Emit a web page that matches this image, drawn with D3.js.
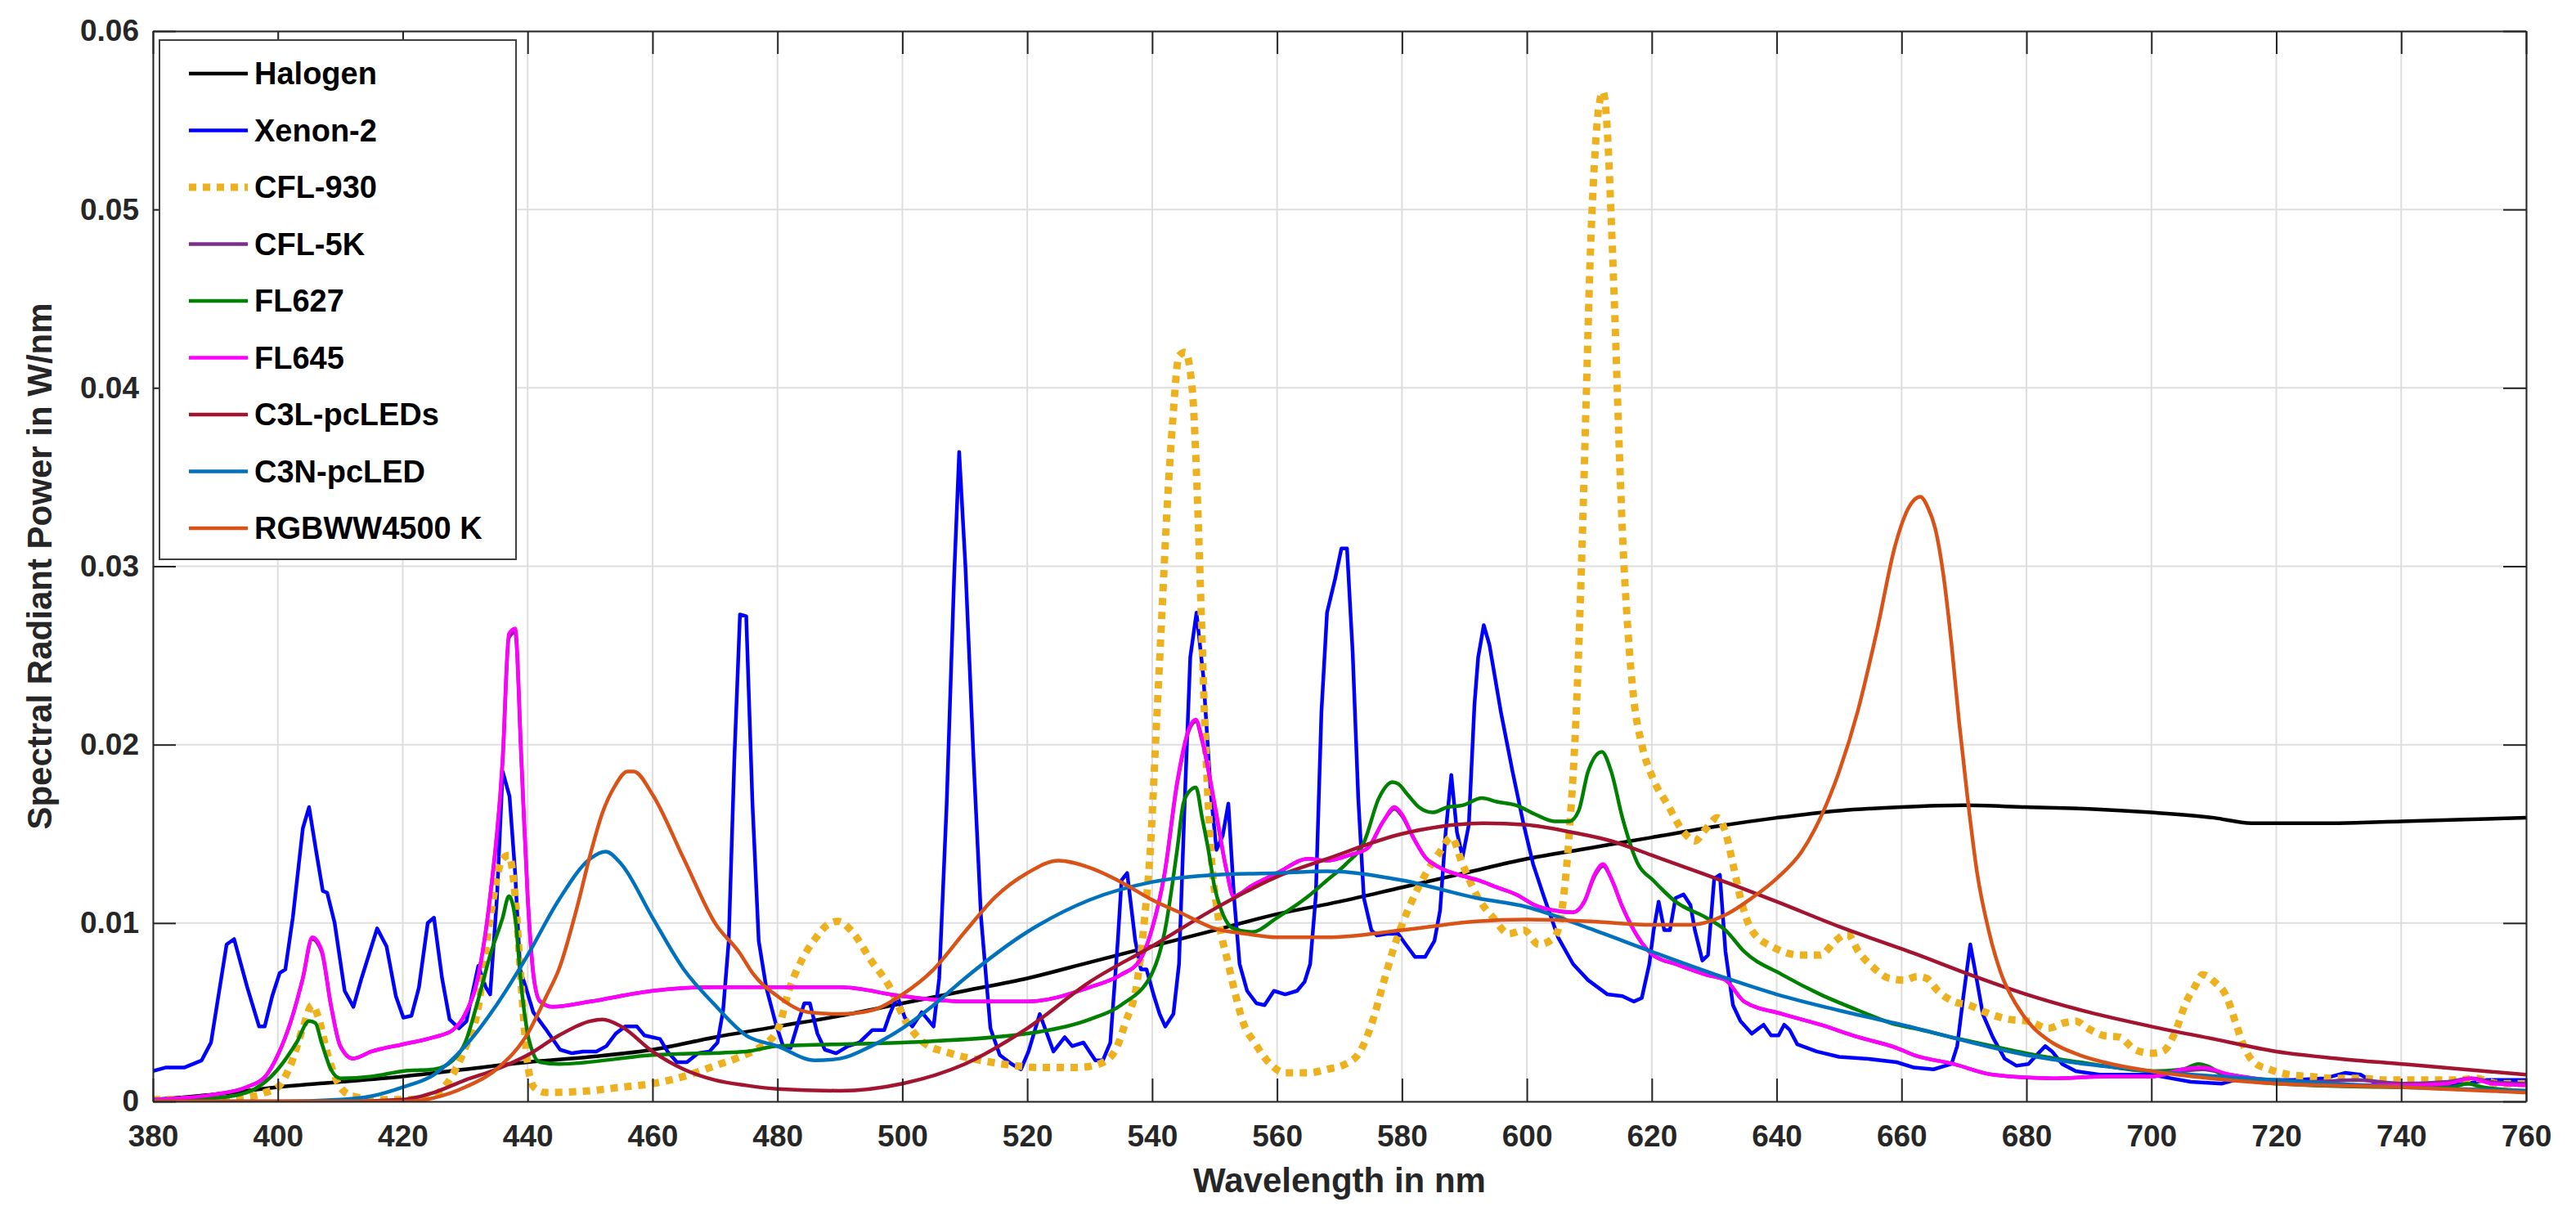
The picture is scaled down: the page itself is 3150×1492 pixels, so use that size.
<!DOCTYPE html>
<html>
<head>
<meta charset="utf-8">
<script src="https://cdn.jsdelivr.net/npm/d3@7"></script>
<style>
  body { margin: 0; background: #fff; }
  text { font-family: "Liberation Sans", Arial, sans-serif; font-weight: bold; }
</style>
</head>
<body>
<svg width="3150" height="1492"></svg>
<script>
// values: [wavelength nm, W/nm]
const halogen = [[380,0.0001],[390,0.0004],[400,0.0008],[410,0.0011],[420,0.0014],[430,0.0018],[440,0.0022],[450,0.0025],[460,0.0029],[470,0.0036],[480,0.0042],[490,0.0048],[500,0.0055],[510,0.0062],[520,0.0069],[530,0.0078],[540,0.0087],[550,0.0096],[560,0.0105],[570,0.0112],[580,0.0120],[590,0.0128],[600,0.0136],[610,0.0142],[620,0.0148],[630,0.0154],[640,0.0159],[650,0.0163],[660,0.0165],[670,0.0166],[680,0.0165],[690,0.0164],[700,0.0162],[710,0.0159],[716,0.0156],[720,0.0156],[730,0.0156],[740,0.0157],[750,0.0158],[760,0.0159]];

const xenon2 = [[380,0.0017],[382,0.0019],[385,0.0019],[387.8,0.0023],[389.3,0.0033],[391.8,0.0088],[393,0.0091],[395.1,0.0064],[397,0.0042],[397.9,0.0042],[399.1,0.0059],[400.3,0.0072],[401.2,0.0074],[402.4,0.0103],[404,0.0153],[405,0.0165],[406.1,0.0141],[407.2,0.0118],[407.9,0.0117],[409.1,0.0100],[410.7,0.0062],[412.1,0.0053],[413.4,0.0069],[415.9,0.0097],[417.4,0.0087],[418.9,0.0059],[420.1,0.0047],[421.4,0.0048],[422.6,0.0064],[424,0.0100],[425,0.0103],[426.3,0.0069],[427.5,0.0046],[429,0.0041],[430.2,0.0045],[432.1,0.0076],[433.3,0.0064],[434,0.0060],[435.1,0.0115],[436,0.0185],[437.1,0.0171],[438,0.0128],[438.8,0.0074],[439.7,0.0064],[440.9,0.0050],[442.8,0.0041],[445.2,0.0029],[447.1,0.0027],[448.9,0.0028],[451,0.0028],[452.6,0.0031],[454.1,0.0038],[455.6,0.0042],[457.5,0.0042],[458.7,0.0037],[461.2,0.0035],[462.4,0.0028],[463.9,0.0022],[465.5,0.0022],[467.3,0.0027],[469.1,0.0028],[470.4,0.0033],[471.3,0.0051],[472.2,0.0090],[473.1,0.0192],[474,0.0273],[475,0.0272],[476,0.0167],[477,0.0090],[478.2,0.0064],[479.7,0.0044],[480.9,0.0031],[482.1,0.0030],[483.3,0.0044],[484.3,0.0055],[485.2,0.0055],[486.4,0.0038],[487.6,0.0029],[489.4,0.0027],[491.3,0.0031],[493.1,0.0033],[495.2,0.0040],[497.1,0.0040],[498,0.0049],[499.2,0.0059],[500.4,0.0047],[501.6,0.0042],[503.1,0.0050],[505,0.0042],[505.9,0.0069],[507.1,0.0167],[508.3,0.0295],[509.1,0.0364],[510.1,0.0300],[511.4,0.0192],[512.6,0.0103],[514.1,0.0041],[515.6,0.0026],[517.5,0.0021],[519,0.0018],[520.2,0.0028],[522,0.0049],[524.2,0.0028],[526,0.0036],[527.2,0.0031],[529,0.0033],[530.9,0.0023],[532.1,0.0023],[533.3,0.0033],[534.5,0.0090],[535.1,0.0124],[536,0.0128],[537.3,0.0090],[538.2,0.0074],[539.1,0.0074],[540.3,0.0059],[541.2,0.0049],[542.1,0.0042],[543.4,0.0049],[544.3,0.0077],[545.2,0.0167],[546.1,0.0249],[547.1,0.0274],[548.2,0.0238],[549.4,0.0172],[550.3,0.0141],[551.3,0.0149],[552.2,0.0167],[553.1,0.0115],[554,0.0077],[555.2,0.0062],[556.7,0.0055],[558,0.0054],[559.5,0.0062],[561.3,0.0060],[563.2,0.0062],[564.4,0.0067],[565.3,0.0077],[566.2,0.0115],[567.1,0.0218],[568,0.0274],[569.3,0.0293],[570.3,0.0310],[571.2,0.0310],[572.1,0.0252],[573,0.0170],[573.9,0.0114],[575.1,0.0096],[576,0.0093],[577.6,0.0094],[579.4,0.0094],[580.6,0.0088],[582.1,0.0081],[583.7,0.0081],[585.2,0.0090],[586.1,0.0107],[587,0.0151],[587.9,0.0183],[588.8,0.0151],[589.7,0.0137],[590.7,0.0155],[591.6,0.0222],[592.2,0.0249],[593.1,0.0267],[594,0.0256],[595.8,0.0219],[597.7,0.0185],[599.5,0.0155],[601,0.0133],[602.8,0.0114],[605,0.0092],[607.4,0.0077],[609.8,0.0068],[612.9,0.0060],[615.3,0.0059],[617.1,0.0056],[618.4,0.0058],[619.6,0.0077],[620.3,0.0096],[621.1,0.0112],[622,0.0096],[622.9,0.0096],[623.8,0.0114],[625.1,0.0116],[626.2,0.0110],[626.9,0.0096],[628.1,0.0079],[629,0.0082],[630,0.0125],[630.9,0.0127],[631.8,0.0084],[633,0.0054],[634.2,0.0045],[636,0.0038],[637.9,0.0043],[639.1,0.0037],[640.3,0.0037],[641.2,0.0043],[642.1,0.0040],[643.3,0.0032],[646.4,0.0028],[650,0.0025],[654.3,0.0024],[659.2,0.0022],[662,0.0019],[665.1,0.0018],[668,0.0021],[668.9,0.0031],[669.9,0.0059],[671,0.0088],[672.1,0.0067],[673,0.0049],[674.6,0.0036],[676.5,0.0024],[678.4,0.0020],[680.3,0.0021],[681.9,0.0027],[683,0.0031],[684.1,0.0028],[685.7,0.0021],[687.9,0.0017],[691.7,0.0015],[696.1,0.0015],[700,0.0015],[703.1,0.0013],[706.3,0.0011],[711.3,0.0010],[714.5,0.0013],[718.9,0.0012],[722.7,0.0012],[727.8,0.0013],[731,0.0016],[733.5,0.0015],[736,0.0010],[741.1,0.0010],[746.1,0.0009],[750.6,0.0010],[753.7,0.0012],[756.9,0.0012],[760,0.0012]];

const cfl930 = [[380,0.0001],[390,0.0001],[396,0.0003],[398,0.0005],[400,0.0008],[402,0.0020],[404,0.0041],[405.5,0.0054],[406.5,0.0047],[408,0.0026],[410,0.0008],[412,0.0003],[416,0.0001],[420,0.0001],[424,0.0002],[428,0.0015],[430,0.0030],[432,0.0051],[434,0.0103],[436,0.0136],[437,0.0138],[438,0.0115],[439,0.0064],[440,0.0021],[441,0.0008],[443,0.0005],[450,0.0006],[455,0.0008],[460,0.0010],[465,0.0014],[470,0.0020],[474,0.0025],[477,0.0030],[480,0.0040],[482,0.0064],[484,0.0080],[486,0.0091],[488,0.0099],[489.7,0.0101],[492,0.0095],[495,0.0079],[498,0.0064],[500.4,0.0046],[503.4,0.0033],[507.7,0.0027],[512.6,0.0023],[516,0.0021],[522,0.0019],[528,0.0019],[531.5,0.0021],[534,0.0028],[535.7,0.0044],[537.6,0.0067],[538.8,0.0103],[539.7,0.0141],[540.6,0.0205],[541.5,0.0269],[542.4,0.0333],[543.3,0.0382],[544.3,0.0418],[545.3,0.0420],[546.4,0.0400],[547.3,0.0333],[547.9,0.0269],[548.5,0.0205],[549.4,0.0141],[550.6,0.0103],[552.2,0.0077],[553.4,0.0059],[554.6,0.0044],[556.4,0.0033],[558.9,0.0021],[561.3,0.0016],[565,0.0016],[568,0.0018],[571,0.0021],[573.3,0.0028],[575.1,0.0043],[577,0.0066],[578.5,0.0084],[580,0.0099],[581.8,0.0114],[583.7,0.0127],[586.1,0.0140],[587.9,0.0148],[589.7,0.0133],[592.2,0.0114],[594.6,0.0103],[597.1,0.0094],[599.5,0.0096],[601.9,0.0088],[604.4,0.0092],[605.6,0.0107],[606.8,0.0151],[608,0.0226],[608.9,0.0319],[609.5,0.0394],[610.1,0.0469],[610.8,0.0525],[611.4,0.0554],[612.2,0.0566],[612.9,0.0543],[613.5,0.0495],[614.1,0.0439],[614.7,0.0375],[615.3,0.0319],[616.2,0.0263],[617.1,0.0226],[618.4,0.0200],[620.2,0.0181],[622.6,0.0166],[625.1,0.0151],[626.9,0.0146],[628.7,0.0153],[630.5,0.0159],[631.8,0.0151],[633,0.0133],[634.2,0.0114],[636,0.0096],[639.7,0.0086],[643.9,0.0082],[647,0.0082],[649.4,0.0090],[651.3,0.0094],[653.1,0.0084],[655.5,0.0075],[658,0.0069],[660.4,0.0068],[662.5,0.0070],[664,0.0069],[665.8,0.0062],[668.3,0.0056],[670.8,0.0054],[673.4,0.0050],[677.2,0.0046],[680.3,0.0045],[683.5,0.0041],[686,0.0044],[687.9,0.0045],[689.8,0.0041],[692.3,0.0037],[694.9,0.0036],[697.4,0.0029],[700,0.0027],[701.8,0.0028],[703.7,0.0038],[705.6,0.0056],[706.9,0.0064],[708.2,0.0071],[710.1,0.0067],[712,0.0059],[713.5,0.0044],[714.8,0.0031],[716.4,0.0022],[718.9,0.0018],[722.1,0.0015],[725.3,0.0014],[729.1,0.0013],[732.9,0.0013],[737.9,0.0012],[744.2,0.0012],[749.3,0.0012],[751.8,0.0013],[755.6,0.0010],[760,0.0010]];

// CFL-5K sits almost exactly under FL645 in the picture
const cfl5k = [[380,0.0001],[390,0.0004],[395,0.0008],[398,0.0014],[400,0.0026],[402,0.0044],[404,0.0069],[405.5,0.0091],[407,0.0084],[408.5,0.0054],[410,0.0031],[412,0.0024],[415,0.0028],[420,0.0032],[425,0.0036],[428,0.0040],[430,0.0049],[432,0.0069],[434,0.0115],[436,0.0191],[437,0.0260],[438,0.0263],[439,0.0191],[440,0.0115],[441,0.0069],[442,0.0056],[444,0.0053],[450,0.0056],[460,0.0062],[470,0.0064],[480,0.0064],[490,0.0064],[500,0.0059],[510,0.0056],[520,0.0056],[530,0.0064],[535,0.0071],[538,0.0079],[540,0.0097],[542,0.0128],[544,0.0178],[546,0.0209],[547,0.0213],[548,0.0202],[550,0.0166],[552,0.0128],[553,0.0115],[556,0.0121],[560,0.0128],[565,0.0136],[568,0.0135],[571.5,0.0138],[574.5,0.0142],[577,0.0157],[578.8,0.0164],[580,0.0160],[581.8,0.0148],[583.7,0.0137],[586.1,0.0131],[589.1,0.0127],[592.2,0.0124],[595.2,0.0120],[598.3,0.0116],[601.3,0.0110],[604.4,0.0107],[607.4,0.0106],[609.2,0.0112],[610.8,0.0126],[612.2,0.0132],[613.5,0.0125],[615.3,0.0109],[617.8,0.0092],[620.2,0.0082],[623.8,0.0077],[628.7,0.0071],[631.8,0.0068],[634.8,0.0056],[640.9,0.0049],[647,0.0043],[653.1,0.0036],[659.2,0.0030],[662,0.0026],[668.3,0.0021],[674.6,0.0015],[684.1,0.0013],[693.6,0.0014],[700,0.0014],[705,0.0017],[708.2,0.0018],[712.6,0.0015],[716.4,0.0013],[725.3,0.0011],[733,0.0012],[740,0.0010],[747.4,0.0011],[751.2,0.0013],[754.4,0.0011],[760,0.0010]];

const fl627 = [[380,0.0001],[390,0.0002],[395,0.0005],[400,0.0018],[403,0.0033],[405,0.0045],[406,0.0044],[407,0.0033],[408.5,0.0018],[410,0.0013],[415,0.0014],[420,0.0017],[425,0.0018],[428,0.0023],[430,0.0033],[432,0.0056],[434,0.0082],[436,0.0103],[437,0.0115],[438,0.0103],[439,0.0064],[440,0.0038],[441,0.0026],[442,0.0022],[445,0.0021],[460,0.0026],[475,0.0028],[480,0.0031],[500,0.0033],[520,0.0038],[530,0.0046],[535,0.0054],[540,0.0072],[542,0.0095],[544,0.0141],[545,0.0167],[546,0.0174],[547,0.0176],[548,0.0159],[549,0.0141],[550,0.0120],[551,0.0108],[553,0.0097],[556,0.0095],[560,0.0103],[565,0.0115],[568,0.0124],[571,0.0133],[574,0.0146],[576.3,0.0170],[578.5,0.0179],[579.4,0.0178],[580.9,0.0172],[582.7,0.0165],[584.9,0.0162],[587.3,0.0165],[589.7,0.0166],[592.8,0.0170],[595.2,0.0168],[598.3,0.0166],[601.3,0.0161],[604.4,0.0157],[606.8,0.0157],[608.3,0.0163],[609.8,0.0185],[612,0.0196],[613.5,0.0185],[615.3,0.0159],[617.8,0.0133],[620.2,0.0124],[623.8,0.0112],[628.7,0.0103],[631.8,0.0096],[634.8,0.0084],[640.9,0.0071],[647,0.0060],[653.1,0.0051],[659.2,0.0043],[662,0.0041],[668,0.0036],[674.6,0.0031],[680,0.0027],[690.4,0.0021],[700,0.0017],[705,0.0018],[707.5,0.0021],[709.5,0.0019],[711.3,0.0015],[720,0.0010],[740,0.0008],[748,0.0008],[750.6,0.0010],[753,0.0008],[760,0.0006]];

const fl645 = [[380,0.0001],[390,0.0004],[395,0.0008],[398,0.0014],[400,0.0026],[402,0.0044],[404,0.0069],[405.5,0.0092],[407,0.0085],[408.5,0.0054],[410,0.0031],[412,0.0024],[415,0.0028],[420,0.0032],[425,0.0036],[428,0.0040],[430,0.0049],[432,0.0069],[434,0.0115],[436,0.0192],[437,0.0262],[438,0.0265],[439,0.0192],[440,0.0115],[441,0.0069],[442,0.0056],[444,0.0053],[450,0.0056],[460,0.0062],[470,0.0064],[480,0.0064],[490,0.0064],[500,0.0059],[510,0.0056],[520,0.0056],[530,0.0064],[535,0.0071],[538,0.0079],[540,0.0097],[542,0.0128],[544,0.0179],[546,0.0210],[547,0.0214],[548,0.0203],[550,0.0167],[552,0.0128],[553,0.0115],[556,0.0121],[560,0.0128],[565,0.0136],[568,0.0135],[571.5,0.0138],[574.5,0.0142],[577,0.0157],[578.8,0.0165],[580,0.0161],[581.8,0.0148],[583.7,0.0137],[586.1,0.0131],[589.1,0.0127],[592.2,0.0124],[595.2,0.0120],[598.3,0.0116],[601.3,0.0110],[604.4,0.0107],[607.4,0.0106],[609.2,0.0112],[610.8,0.0127],[612.2,0.0133],[613.5,0.0125],[615.3,0.0109],[617.8,0.0092],[620.2,0.0082],[623.8,0.0077],[628.7,0.0071],[631.8,0.0068],[634.8,0.0056],[640.9,0.0049],[647,0.0043],[653.1,0.0036],[659.2,0.0030],[662,0.0026],[668.3,0.0021],[674.6,0.0015],[684.1,0.0013],[693.6,0.0014],[700,0.0014],[705,0.0018],[708.2,0.0019],[712.6,0.0015],[716.4,0.0013],[725.3,0.0010],[740,0.0009],[747.4,0.0010],[751.2,0.0013],[754.4,0.0010],[760,0.0009]];

const c3lPcLeds = [[380,0],[400,0],[410,0.0000],[420,0.0001],[425,0.0005],[430,0.0012],[435,0.0018],[440,0.0026],[445,0.0037],[450,0.0045],[452,0.0046],[455,0.0042],[460,0.0028],[465,0.0018],[470,0.0012],[475,0.0009],[480,0.0007],[490,0.0006],[500,0.0010],[510,0.0021],[520,0.0041],[530,0.0067],[540,0.0087],[550,0.0108],[560,0.0126],[568,0.0136],[580,0.0150],[586,0.0154],[593,0.0156],[600,0.0155],[607,0.0151],[613.5,0.0146],[620,0.0138],[628.7,0.0127],[640,0.0112],[650,0.0098],[662,0.0083],[671,0.0071],[680,0.0060],[690,0.0050],[700,0.0042],[710,0.0035],[720,0.0028],[730,0.0024],[740,0.0021],[750,0.0018],[760,0.0015]];

const c3nPcLed = [[380,0],[400,0.0000],[410,0.0001],[415,0.0003],[420,0.0008],[425,0.0015],[430,0.0031],[435,0.0054],[440,0.0082],[445,0.0113],[450,0.0136],[452.5,0.0140],[455,0.0133],[460,0.0103],[465,0.0074],[470,0.0054],[475,0.0037],[480,0.0031],[486,0.0023],[490,0.0024],[495,0.0031],[500,0.0041],[505,0.0054],[510,0.0069],[520,0.0095],[530,0.0113],[540,0.0123],[550,0.0127],[560,0.0128],[568,0.0129],[580,0.0124],[592,0.0114],[600,0.0109],[610,0.0097],[620,0.0084],[632,0.0069],[640,0.0060],[650,0.0051],[660,0.0043],[680,0.0026],[700,0.0017],[720,0.0012],[740,0.0008],[760,0.0006]];

const rgbww4500 = [[380,0],[400,0],[420,0.0000],[425,0.0002],[430,0.0008],[435,0.0018],[440,0.0038],[443,0.0059],[445,0.0074],[448,0.0110],[450,0.0138],[452,0.0162],[454,0.0177],[456,0.0185],[457,0.0185],[460,0.0172],[465,0.0136],[470,0.0100],[474,0.0083],[476,0.0072],[480,0.0059],[485,0.0050],[490,0.0049],[495,0.0051],[500,0.0060],[505,0.0074],[510,0.0095],[515,0.0115],[520,0.0128],[525,0.0135],[530,0.0131],[535,0.0123],[540,0.0113],[545,0.0105],[550,0.0097],[555,0.0094],[560,0.0092],[568,0.0092],[580,0.0096],[592,0.0101],[600,0.0102],[610,0.0101],[620,0.0099],[626,0.0099],[632,0.0105],[636,0.0114],[640,0.0125],[644,0.0140],[647,0.0159],[650,0.0185],[653,0.0219],[656,0.0263],[659,0.0312],[661,0.0332],[663,0.0339],[664.2,0.0333],[665.4,0.0321],[666.7,0.0295],[668,0.0256],[669.2,0.0213],[670.5,0.0172],[672.1,0.0128],[674,0.0095],[675.9,0.0072],[678.4,0.0054],[680.9,0.0042],[684.1,0.0033],[688.5,0.0026],[693.6,0.0021],[700,0.0017],[709.4,0.0013],[720,0.0010],[740,0.0008],[760,0.0005]];

const seriesNames = ['Halogen','Xenon-2','CFL-930','CFL-5K','FL627','FL645','C3L-pcLEDs','C3N-pcLED','RGBWW4500 K'];
const seriesData = [halogen, xenon2, cfl930, cfl5k, fl627, fl645, c3lPcLeds, c3nPcLed, rgbww4500];
const seriesColors = ['#000000','#0000ff','#edb120','#7e2f8e','#008000','#ff00ff','#a2142f','#0072bd','#d95319'];
const xTicks = d3.range(380, 761, 20);
const yTicks = [0, 0.01, 0.02, 0.03, 0.04, 0.05, 0.06];

const svg = d3.select('svg');
const plotLeft = 187, plotRight = 3089, plotTop = 38, plotBottom = 1347;
const tickLen = 28;

const x = d3.scaleLinear().domain([380, 760]).range([plotLeft, plotRight]);
const y = d3.scaleLinear().domain([0, 0.06]).range([plotBottom, plotTop]);

// grid
const grid = svg.append('g').attr('stroke', '#dedede').attr('stroke-width', 2);
grid.selectAll('.gx').data(xTicks).join('line')
  .attr('x1', d => x(d)).attr('x2', d => x(d))
  .attr('y1', plotTop).attr('y2', plotBottom);
grid.selectAll('.gy').data(yTicks).join('line')
  .attr('y1', d => y(d)).attr('y2', d => y(d))
  .attr('x1', plotLeft).attr('x2', plotRight);

// curves
svg.append('clipPath').attr('id', 'plotclip')
  .append('rect').attr('x', plotLeft).attr('y', plotTop)
  .attr('width', plotRight - plotLeft).attr('height', plotBottom - plotTop);

const line = d3.line().x(d => x(d[0])).y(d => y(d[1]));
const plot = svg.append('g').attr('clip-path', 'url(#plotclip)');
seriesData.forEach((data, i) => {
  const p = plot.append('path')
    .datum(data)
    .attr('fill', 'none')
    .attr('stroke', seriesColors[i])
    .attr('stroke-width', 4.5)
    .attr('stroke-linejoin', 'round')
    .attr('d', line.curve(i === 1 ? d3.curveLinear : d3.curveMonotoneX));
  if (i === 2) p.attr('stroke-width', 9).attr('stroke-dasharray', '9,8');
});

// axes, MATLAB-like: box with inward ticks on all sides
const axisColor = '#262626';
const styleAxis = g => {
  g.selectAll('.domain').attr('stroke', axisColor).attr('stroke-width', 2);
  g.selectAll('.tick line').attr('stroke', axisColor).attr('stroke-width', 2);
  g.selectAll('.tick text').attr('fill', axisColor).attr('font-size', 37)
    .attr('font-family', '"Liberation Sans", Arial, sans-serif').attr('font-weight', 'bold');
};

svg.append('g').attr('transform', `translate(0,${plotBottom})`)
  .call(d3.axisBottom(x).tickValues(xTicks).tickSize(-tickLen).tickSizeOuter(0).tickPadding(29))
  .call(styleAxis);
svg.append('g').attr('transform', `translate(0,${plotTop})`)
  .call(d3.axisTop(x).tickValues(xTicks).tickSize(-tickLen).tickSizeOuter(0).tickFormat(''))
  .call(styleAxis);
svg.append('g').attr('transform', `translate(${plotLeft},0)`)
  .call(d3.axisLeft(y).tickValues(yTicks).tickSize(-tickLen).tickSizeOuter(0).tickPadding(17)
    .tickFormat(d => d === 0 ? '0' : d3.format('.2f')(d)))
  .call(styleAxis);
svg.append('g').attr('transform', `translate(${plotRight},0)`)
  .call(d3.axisRight(y).tickValues(yTicks).tickSize(-tickLen).tickSizeOuter(0).tickFormat(''))
  .call(styleAxis);

// axis labels
svg.append('text')
  .attr('x', (plotLeft + plotRight) / 2).attr('y', 1458)
  .attr('text-anchor', 'middle').attr('font-size', 42).attr('fill', axisColor)
  .text('Wavelength in nm');
svg.append('text')
  .attr('transform', `translate(63,${(plotTop + plotBottom) / 2}) rotate(-90)`)
  .attr('text-anchor', 'middle').attr('font-size', 42).attr('fill', axisColor)
  .text('Spectral Radiant Power in W/nm');

// legend
const legend = svg.append('g');
legend.append('rect')
  .attr('x', 195).attr('y', 49).attr('width', 436).attr('height', 635)
  .attr('fill', '#fff').attr('stroke', '#404040').attr('stroke-width', 2);
const rowH = 69.5;
seriesNames.forEach((name, i) => {
  const ly = 90 + i * rowH;
  const l = legend.append('line')
    .attr('x1', 231).attr('x2', 303).attr('y1', ly).attr('y2', ly)
    .attr('stroke', seriesColors[i]).attr('stroke-width', 4.5);
  if (i === 2) l.attr('stroke-width', 9).attr('stroke-dasharray', '9,8');
  legend.append('text')
    .attr('x', 311).attr('y', ly + 13)
    .attr('font-size', 38).attr('fill', '#000')
    .text(name);
});
</script>
</body>
</html>
